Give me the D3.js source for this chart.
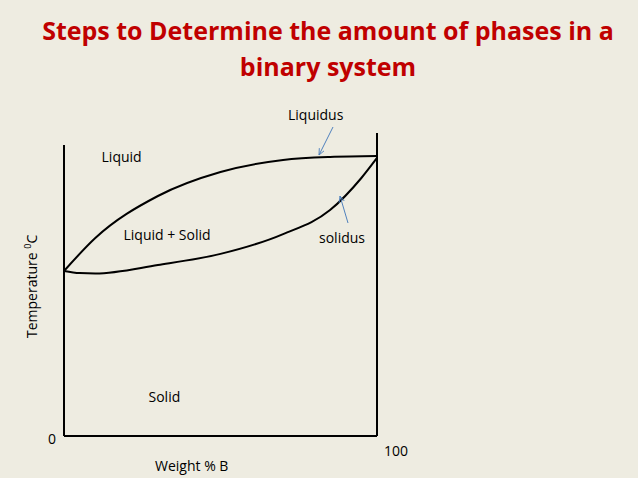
<!DOCTYPE html>
<html><head><meta charset="utf-8">
<script src="https://cdn.jsdelivr.net/npm/d3@7"></script>
<style>body{margin:0;background:#eeece1}svg{display:block}</style>
</head><body>
<script>
const titleLines=["Steps to Determine the amount of phases in a","binary system"];
const liquidusX=[0,10,30,50,70,85,100];
const liquidusY=[55,66,80,88,92,93,93.3];
const solidusX=[0,5,10,30,50,70,85,95,100];
const solidusY=[55,54.3,54.2,57,60.7,67.3,75.3,86,92.7];
const regionLabels=[["Liquid",12,93],["Liquid + Solid",19,67],["Solid",27,13]];
const W=638,H=478;
const svg=d3.select("body").append("svg").attr("width",W).attr("height",H);
svg.append("rect").attr("width",W).attr("height",H).attr("fill","#eeece1");
const x=d3.scaleLinear().domain([0,100]).range([64,377]);
const y=d3.scaleLinear().domain([0,100]).range([436,136]);
const f="'Open Sans',sans-serif";
titleLines.forEach((t,i)=>svg.append("text").attr("x",328).attr("y",40+i*36).attr("text-anchor","middle")
 .attr("font-family",f).attr("font-weight","bold").attr("font-size",25).attr("fill","#c00000").text(t));
const ln=(a,b,c,d)=>svg.append("line").attr("x1",a).attr("y1",b).attr("x2",c).attr("y2",d).attr("stroke","#000").attr("stroke-width",2);
ln(x(0),y(97),x(0),y(0));ln(x(0),y(0),x(100),y(0));ln(x(100),y(101),x(100),y(0));
const line=d3.line().x(d=>x(d[0])).y(d=>y(d[1])).curve(d3.curveMonotoneX);
[[liquidusX,liquidusY],[solidusX,solidusY]].forEach(([xs,ys])=>svg.append("path")
 .attr("d",line(xs.map((v,i)=>[v,ys[i]]))).attr("fill","none").attr("stroke","#000").attr("stroke-width",2));
const txt=(t,a,b,o={})=>svg.append("text").attr("x",a).attr("y",b).attr("font-family",f).attr("font-size",o.s||14).attr("text-anchor",o.a||"start").text(t);
regionLabels.forEach(r=>txt(r[0],x(r[1]),y(r[2])+5));
txt("Liquidus",288,120);txt("solidus",319,243);
txt("0",48,444);txt("100",384,456);txt("Weight % B",155,471);
const yl=svg.append("text").attr("transform","translate(37,338) rotate(-90)").attr("font-family",f).attr("font-size",14);
yl.append("tspan").text("Temperature ");yl.append("tspan").attr("font-size",9).attr("dy",-6).text("0");yl.append("tspan").attr("dy",6).text("C");
svg.append("defs").append("marker").attr("id","ah").attr("viewBox","0 0 10 10").attr("refX",9).attr("refY",5)
 .attr("markerWidth",7).attr("markerHeight",7).attr("orient","auto").append("path").attr("d","M0,1L9,5L0,9").attr("fill","none").attr("stroke","#4f81bd").attr("stroke-width",1.2);
const ar=(a,b,c,d)=>svg.append("line").attr("x1",a).attr("y1",b).attr("x2",c).attr("y2",d).attr("stroke","#4f81bd").attr("stroke-width",1).attr("marker-end","url(#ah)");
ar(333,127,319,155);ar(348,223,340,196);
</script></body></html>
